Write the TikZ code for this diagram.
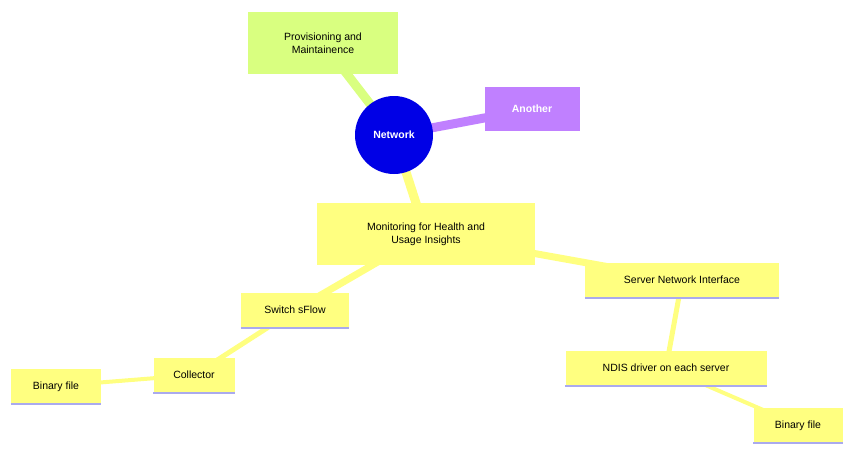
\documentclass[tikz,border=0pt]{standalone}
\usepackage{fontspec}
\setmainfont{Liberation Sans}
\usetikzlibrary{positioning,backgrounds}
\definecolor{rootblue}{RGB}{0,0,230}
\definecolor{provgreen}{RGB}{217,255,128}
\definecolor{anotherpurple}{RGB}{192,128,255}
\definecolor{monyellow}{RGB}{255,255,128}
\definecolor{underline}{RGB}{170,170,238}
\begin{document}
\begin{tikzpicture}[x=1pt,y=-1pt,
  box/.style={fill=#1,inner sep=0pt,align=center,font=\fontsize{10.5}{13}\selectfont},
  leaf/.style={box=monyellow,minimum height=35,text height=8,text depth=2},
  branch/.style={draw=#1,line width=9,line cap=round},
  twig/.style={draw=monyellow,line width=#1}]
\useasboundingbox (0,0) rectangle (850,460);
\node[circle,fill=rootblue,minimum size=78,text=white,font=\fontsize{10.5}{13}\selectfont\bfseries] (net) at (394,135) {Network};
\node[box=provgreen,minimum width=150,minimum height=61] (prov) at (323,43) {Provisioning and\\Maintainence};
\node[box=anotherpurple,minimum width=95,minimum height=44,text=white,font=\fontsize{10.5}{13}\selectfont\bfseries] (another) at (532,109) {Another};
\node[box=monyellow,minimum width=218,minimum height=62] (mon) at (426,234) {Monitoring for Health and\\Usage Insights};
\node[leaf,minimum width=108] (sflow) at (295,310) {Switch sFlow};
\node[leaf,minimum width=194] (nic) at (682,280) {Server Network Interface};
\node[leaf,minimum width=81] (collector) at (194,375) {Collector};
\node[leaf,minimum width=90] (binleft) at (56,386) {Binary file};
\node[leaf,minimum width=201] (ndis) at (666,368) {NDIS driver on each server};
\node[leaf,minimum width=89] (binright) at (798,425) {Binary file};
\foreach \n in {sflow,nic,collector,binleft,ndis,binright}
  \draw[underline,line width=2] (\n.south west) -- (\n.south east);
% connectors behind the nodes
\begin{scope}[on background layer]
\foreach \a/\b/\c in {net/prov/provgreen,net/another/anotherpurple,net/mon/monyellow}
  \draw[branch=\c] (\a.center) -- (\b.center);
\foreach \a/\b/\w in {mon/sflow/7,mon/nic/7,sflow/collector/5,nic/ndis/5,collector/binleft/4,ndis/binright/4}
  \draw[twig=\w] (\a.center) -- (\b.center);
\end{scope}
\end{tikzpicture}
\end{document}
